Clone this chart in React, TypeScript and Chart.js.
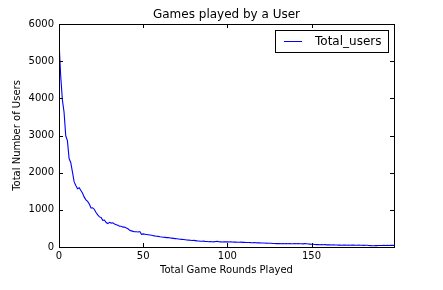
import React, { useEffect, useRef } from "react";
import { Chart, registerables } from "chart.js";

Chart.register(...registerables);

const TITLE = "Games played by a User";
const X_LABEL = "Total Game Rounds Played";
const Y_LABEL = "Total Number of Users";
const SERIES_NAME = "Total_users";

const X_TICKS = [0, 50, 100, 150];
const Y_TICKS = [0, 1000, 2000, 3000, 4000, 5000, 6000];

const totalUsers: number[] = [
  5538, 4606, 3958, 3629, 2992, 2861, 2379, 2267, 2013, 1752,
  1654, 1570, 1594, 1519, 1446, 1342, 1269, 1228, 1158, 1051,
  1057, 1010, 927, 864, 810, 792, 717, 726, 658, 630,
  663, 644, 651, 617, 600, 584, 560, 559, 535, 537,
  508, 491, 448, 434, 420, 412, 410, 405, 415, 340,
  352, 345, 338, 330, 322, 315, 305, 298, 290, 285,
  276, 270, 262, 258, 252, 255, 243, 238, 232, 226,
  220, 214, 208, 204, 200, 195, 190, 186, 182, 176,
  178, 172, 166, 162, 156, 154, 157, 150, 147, 143,
  145, 140, 137, 148, 152, 141, 139, 136, 140, 137,
  140, 136, 138, 133, 131, 134, 129, 127, 130, 125,
  127, 122, 120, 123, 118, 116, 118, 113, 111, 113,
  108, 106, 109, 103, 101, 99, 101, 96, 94, 92,
  90, 92, 88, 90, 87, 91, 88, 92, 86, 89,
  90, 87, 91, 86, 89, 85, 90, 88, 82, 78,
  75, 72, 66, 64, 68, 61, 64, 59, 66, 58,
  56, 59, 53, 56, 52, 54, 50, 52, 49, 53,
  50, 48, 51, 47, 50, 52, 48, 46, 50, 47,
  49, 45, 48, 46, 42, 38, 35, 33, 36, 38,
  40, 42, 39, 43, 41, 44, 42, 45, 43, 44,
];

const gameRounds: number[] = totalUsers.map((_, i) => i);

const FONT = "'DejaVu Sans', sans-serif";

const decorPlugin = {
  id: "decor",
  afterDraw(chart: any) {
    const ctx = chart.ctx as CanvasRenderingContext2D;
    const { left, right, top, bottom } = chart.chartArea;
    const xs = chart.scales.x;
    const ys = chart.scales.y;
    ctx.save();
    ctx.strokeStyle = "#000";
    ctx.lineWidth = 1;
    ctx.strokeRect(Math.round(left) + 0.5, Math.round(top) + 0.5, Math.round(right - left), Math.round(bottom - top));
    ctx.beginPath();
    const tl = 4;
    for (const v of X_TICKS) {
      const px = Math.round(xs.getPixelForValue(v)) + 0.5;
      ctx.moveTo(px, bottom);
      ctx.lineTo(px, bottom - tl);
      ctx.moveTo(px, top);
      ctx.lineTo(px, top + tl);
    }
    for (const v of Y_TICKS) {
      const py = Math.round(ys.getPixelForValue(v)) + 0.5;
      ctx.moveTo(left, py);
      ctx.lineTo(left + tl, py);
      ctx.moveTo(right, py);
      ctx.lineTo(right - tl, py);
    }
    ctx.stroke();

    ctx.fillStyle = "#000";
    ctx.font = `12px ${FONT}`;
    ctx.textAlign = "center";
    ctx.textBaseline = "middle";
    ctx.fillText(TITLE, (left + right) / 2, 15);

    ctx.font = `10px ${FONT}`;
    ctx.fillText(X_LABEL, (left + right) / 2, 270);
    ctx.save();
    ctx.translate(17.5, (top + bottom) / 2);
    ctx.rotate(-Math.PI / 2);
    ctx.fillText(Y_LABEL, 0, 0);
    ctx.restore();

    const lx = 275.5, ly = 30.5, lw = 113, lh = 22;
    ctx.fillStyle = "#fff";
    ctx.fillRect(lx, ly, lw, lh);
    ctx.strokeStyle = "#000";
    ctx.strokeRect(lx, ly, lw, lh);
    ctx.strokeStyle = "#0000ff";
    ctx.beginPath();
    ctx.moveTo(284, 41.5);
    ctx.lineTo(302, 41.5);
    ctx.stroke();
    ctx.fillStyle = "#000";
    ctx.font = `12px ${FONT}`;
    ctx.textAlign = "left";
    ctx.textBaseline = "middle";
    ctx.fillText(SERIES_NAME, 315, 42);
    ctx.restore();
  },
};

export default function App() {
  const ref = useRef<HTMLCanvasElement | null>(null);
  useEffect(() => {
    if (!ref.current) return;
    const chart = new Chart(ref.current, {
      type: "line",
      data: {
        datasets: [
          {
            label: SERIES_NAME,
            data: gameRounds.map((x, i) => ({ x, y: totalUsers[i] })),
            borderColor: "#0000ff",
            borderWidth: 1.1,
            pointRadius: 0,
            tension: 0,
            fill: false,
          },
        ],
      },
      options: {
        animation: false,
        responsive: false,
        devicePixelRatio: 1,
        layout: { padding: { top: 24, right: 49, left: 0, bottom: 0 } },
        plugins: {
          legend: { display: false },
          title: { display: false },
          tooltip: { enabled: false },
        },
        scales: {
          x: {
            type: "linear",
            min: 0,
            max: 199,
            grid: { display: false, drawTicks: false },
            border: { display: false },
            afterFit: (s: any) => {
              s.height = 43;
            },
            afterBuildTicks: (s: any) => {
              s.ticks = X_TICKS.map((v) => ({ value: v }));
            },
            ticks: {
              color: "#000",
              font: { family: FONT, size: 10 },
              padding: 3,
              maxRotation: 0,
              includeBounds: false,
              callback: (v: any) => String(v),
            },
          },
          y: {
            type: "linear",
            min: 0,
            max: 6000,
            grid: { display: false, drawTicks: false },
            border: { display: false },
            afterFit: (s: any) => {
              s.width = 59;
            },
            afterBuildTicks: (s: any) => {
              s.ticks = Y_TICKS.map((v) => ({ value: v }));
            },
            ticks: {
              color: "#000",
              font: { family: FONT, size: 10 },
              padding: 5,
              callback: (v: any) => String(v),
            },
          },
        },
      },
      plugins: [decorPlugin],
    });
    return () => chart.destroy();
  }, []);
  return (
    <div style={{ position: "fixed", left: 0, top: 0, width: 443, height: 290, background: "#fff" }}>
      <canvas ref={ref} width={443} height={290} />
    </div>
  );
}
